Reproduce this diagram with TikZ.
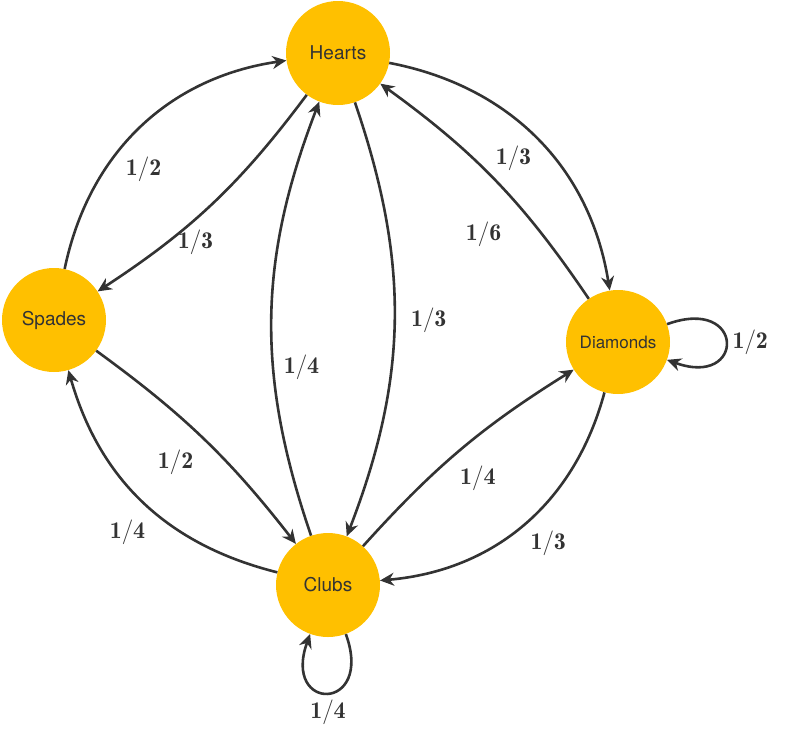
\documentclass[tikz,border=0pt]{standalone}
\usepackage{fontspec}
\usepackage{amsmath}
\newfontfamily\nodefont{TeX Gyre Heros}
\usetikzlibrary{arrows.meta}
\definecolor{suitgold}{HTML}{FFC000}
\definecolor{edgegray}{HTML}{333333}
\tikzset{
  suit/.style = {circle, fill = suitgold, minimum size = 104pt, inner sep = 0pt,
                 font = \nodefont\fontsize{19}{21}\selectfont, text = edgegray},
  trans/.style = {draw = edgegray, line width = 2.6pt, -{Stealth[length = 14pt, width = 13pt]}},
  prob/.style = {font = \fontsize{24}{26}\selectfont, text = edgegray}
}
\begin{document}
\begin{tikzpicture}[x = 1pt, y = 1pt]
        \useasboundingbox (0,0) rectangle (800,-740);

        \node[suit] (hearts) at (338,-53) {Hearts};
        \node[suit] (spades) at (54,-320) {Spades};
        \node[suit] (diamonds) at (618,-342) {\fontsize{17}{19}\selectfont Diamonds};
        \node[suit] (clubs) at (328,-585) {Clubs};

        \draw[trans] (spades) to[bend left = 35] node[prob, pos = 0.4, below right = 2pt] {$\mathbf{1/2}$} (hearts);
        \draw[trans] (hearts) to[bend left = 10] node[prob, pos = 0.72, right = 6pt] {$\mathbf{1/3}$} (spades);
        \draw[trans] (hearts) to[bend left = 35] node[prob, pos = 0.5, below left = 2pt] {$\mathbf{1/3}$} (diamonds);
        \draw[trans] (diamonds) to[bend right = 10] node[prob, pos = 0.38, below left = 12pt] {$\mathbf{1/6}$} (hearts);
        \draw[trans] (hearts) to[bend left = 20] node[prob, pos = 0.5, right = 12pt] {$\mathbf{1/3}$} (clubs);
        \draw[trans] (clubs) to[bend left = 20] node[prob, pos = 0.38, right = 6pt] {$\mathbf{1/4}$} (hearts);
        \draw[trans] (spades) to[bend left = 8] node[prob, pos = 0.5, below left = 6pt] {$\mathbf{1/2}$} (clubs);
        \draw[trans] (clubs) to[bend left = 30] node[prob, pos = 0.45, below left = 4pt] {$\mathbf{1/4}$} (spades);
        \draw[trans] (clubs) to[bend left = 8] node[prob, pos = 0.45, below right = 4pt] {$\mathbf{1/4}$} (diamonds);
        \draw[trans] (diamonds) to[bend left = 35] node[prob, pos = 0.5, below right = 2pt] {$\mathbf{1/3}$} (clubs);
        \draw[trans] (diamonds) to[out = 20, in = -20, looseness = 6] node[prob, right = 2pt] {$\mathbf{1/2}$} (diamonds);
        \draw[trans] (clubs) to[out = -70, in = -110, looseness = 6] node[prob, below = 2pt] {$\mathbf{1/4}$} (clubs);
    \end{tikzpicture}
\end{document}
